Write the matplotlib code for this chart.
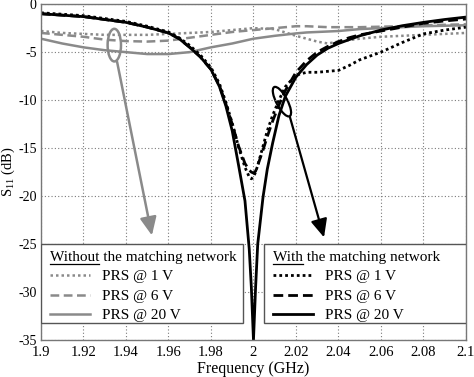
import numpy as np
import matplotlib.pyplot as plt
from matplotlib.patches import Ellipse, Rectangle
from matplotlib.lines import Line2D
from matplotlib.transforms import ScaledTranslation, IdentityTransform

plt.rcParams['font.family'] = ['Liberation Serif', 'DejaVu Serif']
plt.rcParams['mathtext.fontset'] = 'custom'
plt.rcParams['mathtext.rm'] = 'Liberation Serif'
plt.rcParams['mathtext.default'] = 'regular'

# without the matching network (gray)
freq_wo = [1.90, 1.91, 1.92, 1.93, 1.94, 1.95, 1.96, 1.97, 1.98, 1.99, 2.00, 2.01,
           2.02, 2.025, 2.03, 2.035, 2.04, 2.05, 2.06, 2.07, 2.08, 2.09, 2.10]
wo_1v = [-2.8, -3.0, -3.1, -3.2, -3.2, -3.2, -3.1, -3.0, -2.9, -2.7, -2.5, -2.6,
         -3.3, -3.6, -3.9, -4.1, -3.9, -3.6, -3.4, -3.3, -3.2, -3.1, -3.0]
wo_6v = [-3.0, -3.2, -3.4, -3.7, -3.85, -3.9, -3.8, -3.5, -3.2, -2.9, -2.7, -2.5,
         -2.3, -2.3, -2.35, -2.4, -2.4, -2.4, -2.35, -2.3, -2.2, -2.15, -2.1]
wo_20v = [-3.6, -4.1, -4.5, -4.8, -5.0, -5.2, -5.2, -5.0, -4.5, -4.1, -3.6, -3.3,
          -3.05, -2.95, -2.9, -2.85, -2.8, -2.6, -2.5, -2.4, -2.3, -2.25, -2.2]

# with the matching network (black)
freq_w = [1.90, 1.92, 1.94, 1.95, 1.96, 1.965, 1.97, 1.975, 1.98, 1.984, 1.987, 1.99,
          1.993, 1.996, 1.998, 1.999, 2.000, 2.001, 2.002, 2.0045, 2.0065, 2.009,
          2.012, 2.015, 2.02, 2.025, 2.03, 2.035, 2.04, 2.045, 2.05, 2.06, 2.07,
          2.08, 2.09, 2.10]
w_1v = [-0.9, -1.2, -1.8, -2.3, -2.9, -3.5, -4.3, -5.3, -6.6, -8.3, -10.2, -12.4,
        -14.9, -17.0, -18.0, -18.2, -18.0, -17.5, -16.8, -14.8, -13.2, -11.6,
        -10.0, -8.6, -7.4, -7.1, -7.1, -7.0, -6.9, -6.4, -5.8, -5.0, -4.0,
        -3.1, -2.7, -2.4]
w_6v = [-1.0, -1.3, -1.9, -2.4, -3.0, -3.6, -4.5, -5.5, -6.8, -8.5, -10.4, -12.5,
        -14.8, -16.6, -17.3, -17.5, -17.6, -17.4, -16.8, -15.2, -13.8, -12.2,
        -10.5, -9.0, -7.1, -5.9, -5.0, -4.4, -3.9, -3.5, -3.2, -2.8, -2.4,
        -2.0, -1.75, -1.55]
w_20v = [-1.0, -1.3, -1.9, -2.4, -3.0, -3.6, -4.5, -5.5, -6.8, -8.6, -10.6, -13.2,
         -16.8, -20.5, -25.5, -29.5, -35.0, -29.5, -25.0, -20.1, -17.2, -14.5,
         -11.6, -9.6, -7.6, -6.3, -5.3, -4.6, -4.1, -3.7, -3.3, -2.7, -2.25,
         -1.9, -1.6, -1.35]

labels = ['PRS @ 1 V', 'PRS @ 6 V', 'PRS @ 20 V']
xticks = [1.90, 1.92, 1.94, 1.96, 1.98, 2.00, 2.02, 2.04, 2.06, 2.08, 2.10]
xtick_labels = ['1.9', '1.92', '1.94', '1.96', '1.98', '2', '2.02', '2.04', '2.06', '2.08', '2.1']
yticks = [-35, -30, -25, -20, -15, -10, -5, 0]
ytick_labels = ['-35', '-30', '-25', '-20', '-15', '-10', '-5', '0']

gray = '#8a8a8a'

fig = plt.figure(figsize=(4.74, 3.77), dpi=100)
ax = fig.add_axes([0.0865, 0.098, 0.8965, 0.891])

g1, = ax.plot(freq_wo, wo_1v, color=gray, lw=1.8, linestyle=(0, (1, 1.2)))
g2, = ax.plot(freq_wo, wo_6v, color=gray, lw=1.8, linestyle=(0, (3.5, 1.8)))
g3, = ax.plot(freq_wo, wo_20v, color=gray, lw=1.8)
b1, = ax.plot(freq_w, w_1v, color='black', lw=2.0, linestyle=(0, (1, 1.1)))
b2, = ax.plot(freq_w, w_6v, color='black', lw=2.0, linestyle=(0, (3.5, 1.8)))
b3, = ax.plot(freq_w, w_20v, color='black', lw=2.0)

ax.set_xlim(1.9, 2.1)
ax.set_ylim(-35, 0)
ax.set_xticks(xticks)
ax.set_xticklabels(xtick_labels)
ax.set_yticks(yticks)
ax.set_yticklabels(ytick_labels)
ax.tick_params(length=0, labelsize=10.5, pad=4)
ax.tick_params(axis='y', labelsize=10, pad=3)
ax.grid(True, color='#7a7a7a', lw=0.8, linestyle=(0, (1, 2)))
for s in ax.spines.values():
    s.set_color('#777777')
    s.set_linewidth(1.0)
ax.set_xlabel('Frequency (GHz)', fontsize=11.5, labelpad=2)
ax.set_ylabel('S$_{11}$ (dB)', fontsize=10.5)
ax.yaxis.set_label_coords(-0.0575, 0.5)

# ellipses and arrows
ax.add_patch(Ellipse((1.9345, -4.27), 0.0063, 3.4, fill=False, edgecolor=gray, lw=1.8))
ax.annotate('', xy=(1.9522, -24.1), xytext=(1.9358, -6.0),
            arrowprops=dict(arrowstyle='-|>,head_length=0.55,head_width=0.25',
                            mutation_scale=20, color=gray, lw=1.8,
                            shrinkA=0, shrinkB=0))
tr = fig.dpi_scale_trans + ScaledTranslation(2.0134, -10.16, ax.transData)
ax.add_patch(Ellipse((0, 0), 0.11, 0.33, angle=28, fill=False, edgecolor='black',
                     lw=1.6, transform=tr))
ax.annotate('', xy=(2.0332, -24.3), xytext=(2.0172, -11.8),
            arrowprops=dict(arrowstyle='-|>,head_length=0.55,head_width=0.25',
                            mutation_scale=20, color='black', lw=1.6,
                            shrinkA=0, shrinkB=0))

# legend boxes
box_top = 10 / 35
box_bot = 0.0506
ax.add_patch(Rectangle((0, box_bot), 0.475, box_top - box_bot, transform=ax.transAxes,
                       facecolor='white', edgecolor='#555555', lw=1.0, zorder=4))
ax.add_patch(Rectangle((0.525, box_bot), 0.475, box_top - box_bot, transform=ax.transAxes,
                       facecolor='white', edgecolor='#555555', lw=1.0, zorder=4))

leg_kw = dict(loc='upper left', frameon=False, fontsize=11, title_fontsize=11,
              alignment='left', handlelength=2.6, handletextpad=0.8,
              labelspacing=0.38, borderaxespad=0, borderpad=0.45)
leg1 = ax.legend([g1, g2, g3], labels, title='Without the matching network',
                 bbox_to_anchor=(0.005, box_top), **leg_kw)
leg1.set_zorder(5)
ax.add_artist(leg1)
leg2 = ax.legend([b1, b2, b3], labels, title='With the matching network',
                 bbox_to_anchor=(0.53, box_top), **leg_kw)
leg2.set_zorder(5)

# underline first word of each legend title
fig.canvas.draw()
r = fig.canvas.get_renderer()
for leg, word in [(leg1, 'Without'), (leg2, 'With')]:
    t = leg.get_title()
    bb = t.get_window_extent(r)
    w, h, d = r.get_text_width_height_descent(word, t.get_fontproperties(), ismath=False)
    y = bb.y0 + d * 0.45
    fig.add_artist(Line2D([bb.x0, bb.x0 + w], [y, y], color='black', lw=0.9,
                          transform=IdentityTransform()))

fig.savefig('out.png', dpi=100)
